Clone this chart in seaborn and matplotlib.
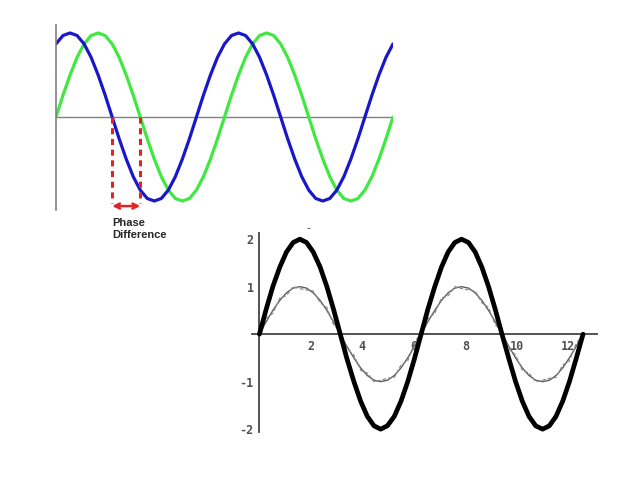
import numpy as np
import pandas as pd
import matplotlib.pyplot as plt
import seaborn as sns

# ---- top panel: two waves, phase angle in degrees
theta = [0, 15, 30, 45, 60, 75, 90, 105, 120, 135, 150, 165, 180,
         195, 210, 225, 240, 255, 270, 285, 300, 315, 330, 345, 360,
         375, 390, 405, 420, 435, 450, 465, 480, 495, 510, 525, 540,
         555, 570, 585, 600, 615, 630, 645, 660, 675, 690, 705, 720]
green_wave = [0, .26, .5, .71, .87, .97, 1, .97, .87, .71, .5, .26, 0,
              -.26, -.5, -.71, -.87, -.97, -1, -.97, -.87, -.71, -.5, -.26, 0,
              .26, .5, .71, .87, .97, 1, .97, .87, .71, .5, .26, 0,
              -.26, -.5, -.71, -.87, -.97, -1, -.97, -.87, -.71, -.5, -.26, 0]
blue_wave = [.87, .97, 1, .97, .87, .71, .5, .26, 0, -.26, -.5, -.71, -.87,
             -.97, -1, -.97, -.87, -.71, -.5, -.26, 0, .26, .5, .71, .87,
             .97, 1, .97, .87, .71, .5, .26, 0, -.26, -.5, -.71, -.87,
             -.97, -1, -.97, -.87, -.71, -.5, -.26, 0, .26, .5, .71, .87]
phase_marks = [120, 180]  # zero crossings of blue and green

# ---- bottom panel: x in radians
x_rad = [0, 0.26, 0.52, 0.79, 1.05, 1.31, 1.57, 1.83, 2.09, 2.36, 2.62, 2.88, 3.14,
         3.40, 3.67, 3.93, 4.19, 4.45, 4.71, 4.97, 5.24, 5.50, 5.76, 6.02, 6.28,
         6.54, 6.81, 7.07, 7.33, 7.59, 7.85, 8.12, 8.38, 8.64, 8.90, 9.16, 9.42,
         9.69, 9.95, 10.21, 10.47, 10.73, 11.00, 11.26, 11.52, 11.78, 12.04, 12.30, 12.57]
thick_wave = [0, .52, 1, 1.41, 1.73, 1.93, 2, 1.93, 1.73, 1.41, 1, .52, 0,
              -.52, -1, -1.41, -1.73, -1.93, -2, -1.93, -1.73, -1.41, -1, -.52, 0,
              .52, 1, 1.41, 1.73, 1.93, 2, 1.93, 1.73, 1.41, 1, .52, 0,
              -.52, -1, -1.41, -1.73, -1.93, -2, -1.93, -1.73, -1.41, -1, -.52, 0]
thin_wave = [0, .26, .5, .71, .87, .97, 1, .97, .87, .71, .5, .26, 0,
             -.26, -.5, -.71, -.87, -.97, -1, -.97, -.87, -.71, -.5, -.26, 0,
             .26, .5, .71, .87, .97, 1, .97, .87, .71, .5, .26, 0,
             -.26, -.5, -.71, -.87, -.97, -1, -.97, -.87, -.71, -.5, -.26, 0]
noisy_wave = [0, .33, .44, .76, .81, 1.0, .96, .93, .91, .66, .56, .2, .06,
              -.31, -.44, -.76, -.82, -1.0, -.97, -.93, -.91, -.65, -.56, -.2, .06,
              .33, .44, .76, .81, 1.0, .96, .93, .91, .66, .56, .2, .06,
              -.31, -.44, -.76, -.82, -1.0, -.97, -.93, -.91, -.65, -.56, -.2, 0]
xticks = [2, 4, 6, 8, 10, 12]
yticks = [-2, -1, 1, 2]

sns.set_style('white')
plt.rcParams['axes.unicode_minus'] = False
W, H = 638, 478
fig = plt.figure(figsize=(6.38, 4.78), dpi=100)

# %% top chart
ax1 = fig.add_axes([56/W, 1 - 210/H, (393 - 56)/W, 185/H])
top = pd.DataFrame({'theta': theta, 'green': green_wave, 'blue': blue_wave})
sns.lineplot(data=top, x='theta', y='green', ax=ax1, color='#40e840', lw=2.3,
             estimator=None, solid_joinstyle='round')
sns.lineplot(data=top, x='theta', y='blue', ax=ax1, color='#1818c8', lw=2.3,
             estimator=None, solid_joinstyle='round')
ax1.axhline(0, color='#808080', lw=1, zorder=1)
ax1.set_xlim(0, 720)
ax1.set_ylim(-1.107, 1.095)
for s in ['top', 'right', 'bottom']:
    ax1.spines[s].set_visible(False)
ax1.spines['left'].set_color('#808080')
ax1.spines['left'].set_linewidth(1.2)
ax1.set_xticks([])
ax1.set_yticks([])
ax1.set_xlabel('')
ax1.set_ylabel('')
ax1.patch.set_alpha(0)
for m in phase_marks:
    ax1.plot([m, m], [0, -1.02], color='#e02424', lw=2.2, ls=(0, (2, 1.5)), clip_on=False)
ax1.annotate('', xy=(phase_marks[0], -1.06), xytext=(phase_marks[1], -1.06),
             arrowprops=dict(arrowstyle='<->', color='#e02424', lw=1.8,
                             shrinkA=0, shrinkB=0, mutation_scale=9),
             annotation_clip=False)
fig.text(112/W, 1 - 218/H, 'Phase\nDifference', fontsize=8, fontweight='bold',
         family='Liberation Sans', va='top', ha='left', linespacing=1.25)

# %% bottom chart
ax2 = fig.add_axes([251.7/W, 1 - 432/H, 345/W, 199/H])
bot = pd.DataFrame({'x': x_rad, 'thick': thick_wave, 'thin': thin_wave, 'noisy': noisy_wave})
sns.lineplot(data=bot, x='x', y='thin', ax=ax2, color='#5e5e5e', lw=1.0,
             estimator=None, zorder=3, solid_joinstyle='round')
sns.lineplot(data=bot, x='x', y='noisy', ax=ax2, color='#8c8c8c', lw=0.9, ls=(0, (3, 1.5)),
             estimator=None, zorder=3)
sns.lineplot(data=bot, x='x', y='thick', ax=ax2, color='black', lw=3.4,
             estimator=None, zorder=4, solid_joinstyle='round')
ax2.set_xlim(-0.30, 13.10)
ax2.set_ylim(-2.06, 2.13)
ax2.spines['left'].set_position(('data', 0))
ax2.spines['bottom'].set_position(('data', 0))
ax2.spines['top'].set_visible(False)
ax2.spines['right'].set_visible(False)
for s in ['left', 'bottom']:
    ax2.spines[s].set_color('#444444')
    ax2.spines[s].set_linewidth(1.3)
ax2.set_xticks(xticks)
ax2.set_yticks(yticks)
ax2.tick_params(direction='inout', length=6, width=1.0, color='#555555',
                labelsize=8.5, labelcolor='#505050', pad=1)
for lab in ax2.get_xticklabels() + ax2.get_yticklabels():
    lab.set_family('DejaVu Sans Mono')
    lab.set_fontweight('bold')
ax2.set_xlabel('')
ax2.set_ylabel('')
ax2.patch.set_alpha(0)
fig.text(308/W, 1 - 228/H, '-', fontsize=7, ha='center', va='center', color='#333333')

fig.savefig('out.png', dpi=100)
